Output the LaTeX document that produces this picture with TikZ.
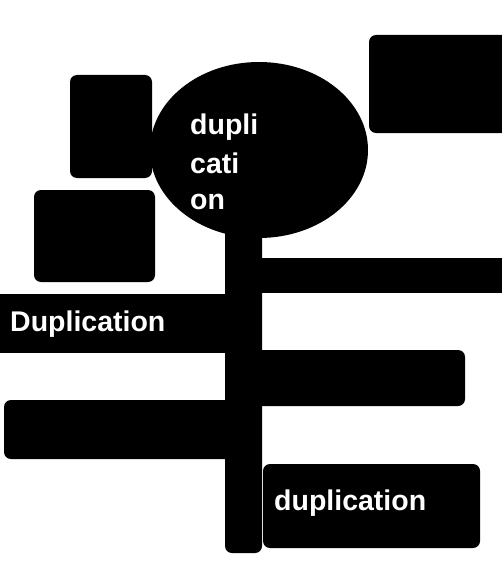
\documentclass[tikz,border=0pt]{standalone}
\usepackage{fontspec}
\setmainfont{Liberation Sans}
\usetikzlibrary{shapes.geometric}
\begin{document}
\begin{tikzpicture}[x=1pt,y=-1pt,
  blk/.style={fill=black,draw=none,rounded corners=7pt,inner sep=0pt,outer sep=0pt},
  lbl/.style={text=white,font=\fontsize{28.5}{37}\selectfont\bfseries,inner sep=0pt,anchor=base west}]
\useasboundingbox (0,0) rectangle (501,567);
% top left boxes
\node[blk,minimum width=82pt,minimum height=103pt] (tl) at (111,126.5) {};
\node[blk,minimum width=121pt,minimum height=92pt] (ml) at (94.5,236) {};
\node[blk,minimum width=140pt,minimum height=98pt] (tr) at (439,84) {};
% trunk
\node[blk,minimum width=37pt,minimum height=353pt] (trunk) at (243.5,376.5) {};
% ellipse head
\node[ellipse,fill=black,inner sep=0pt,minimum width=218pt,minimum height=176pt] (head) at (259,150) {};
% branches
\node[blk,rounded corners=0pt,minimum width=250pt,minimum height=35pt] (b1) at (387,275.5) {};
\node[blk,rounded corners=0pt,minimum width=240pt,minimum height=59pt] (b2) at (110,323.5) {};
\node[blk,minimum width=210pt,minimum height=56pt] (b3) at (360,378) {};
\node[blk,minimum width=240pt,minimum height=59pt] (b4) at (124,429.5) {};
\node[blk,minimum width=217pt,minimum height=84pt] (b5) at (371.5,506) {};
% texts
\node[lbl] (t1) at (190,135) {dupli};
\node[lbl] (t2) at (190,173) {cati};
\node[lbl] (t3) at (190,209) {on};
\node[lbl] (t4) at (10,331) {Duplication};
\node[lbl] (t5) at (274,510) {duplication};
\end{tikzpicture}
\end{document}
